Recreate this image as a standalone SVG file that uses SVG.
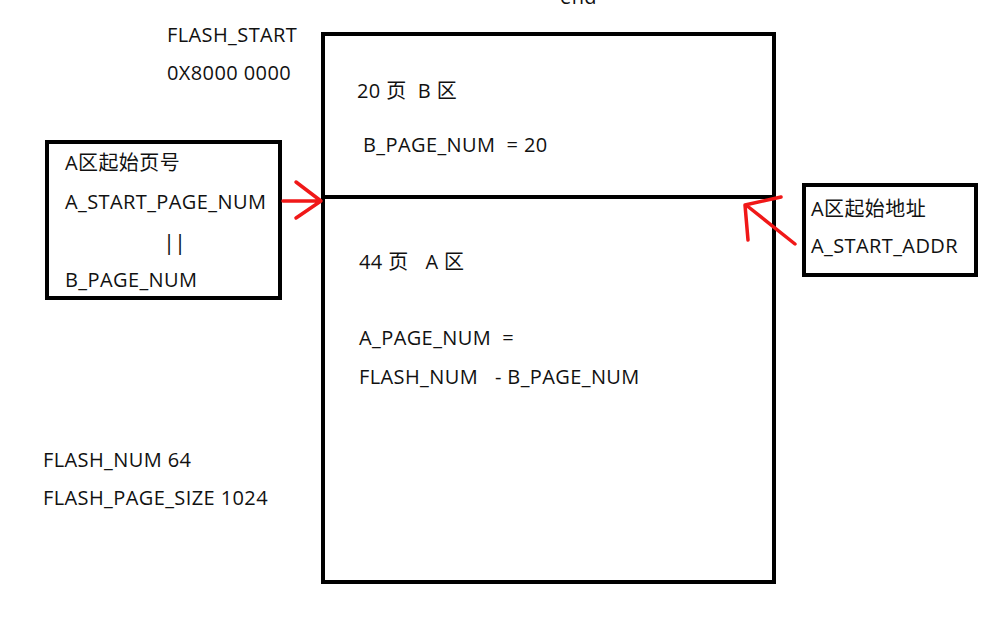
<svg xmlns="http://www.w3.org/2000/svg" width="981" height="631" viewBox="0 0 981 631">
<style>
text{font-family:"Open Sans","Noto Sans CJK SC",sans-serif;font-size:20px;letter-spacing:0.4px;fill:#111;white-space:pre}
.box{fill:none;stroke:#000;stroke-width:4}
.red{fill:none;stroke:#f01818;stroke-width:3.5;stroke-linecap:round;stroke-linejoin:round}
</style>
<rect width="981" height="631" fill="#fff"/>
<text x="560" y="4">end</text>
<text x="167" y="42">FLASH_START</text>
<text x="167" y="80">0X8000 0000</text>
<g id="flash">
<rect class="box" x="323" y="34" width="451" height="548"/>
<line x1="323" y1="197" x2="774" y2="197" stroke="#000" stroke-width="4"/>
<text x="357" y="98" xml:space="preserve">20 页  B 区</text>
<text x="363" y="152" xml:space="preserve">B_PAGE_NUM  = 20</text>
<text x="359" y="269" xml:space="preserve">44 页   A 区</text>
<text x="359" y="345" xml:space="preserve">A_PAGE_NUM  =</text>
<text x="359" y="384" xml:space="preserve">FLASH_NUM   - B_PAGE_NUM</text>
</g>
<g id="a-start-page">
<rect class="box" x="47" y="142" width="233" height="156"/>
<text x="65" y="170">A区起始页号</text>
<text x="65" y="209">A_START_PAGE_NUM</text>
<text x="163" y="250" style="letter-spacing:-1px;font-size:22px">||</text>
<text x="65" y="287">B_PAGE_NUM</text>
</g>
<g id="a-start-addr">
<rect class="box" x="804" y="185" width="172" height="90"/>
<text x="811" y="216">A区起始地址</text>
<text x="811" y="253">A_START_ADDR</text>
</g>
<text x="43" y="467">FLASH_NUM 64</text>
<text x="43" y="505">FLASH_PAGE_SIZE 1024</text>
<g id="connectors">
<path class="red" d="M283 201 L320 201 M296 182 L321 201 L296 218"/>
<path class="red" d="M795 244 L746 205 M781 197 L745 205 L748 240"/>
</g>
</svg>
